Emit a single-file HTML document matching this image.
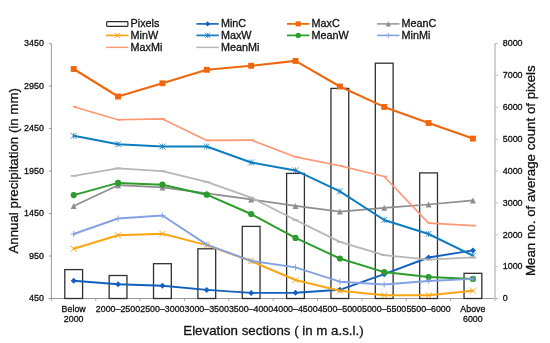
<!DOCTYPE html>
<html><head><meta charset="utf-8"><title>Chart</title>
<style>html,body{margin:0;padding:0;background:#fff}svg{display:block}</style></head>
<body>
<svg width="550" height="343" viewBox="0 0 550 343" font-family="'Liberation Sans', sans-serif" fill="#111">
<style>text{stroke:#111;stroke-width:0.3px}</style>
<rect width="550" height="343" fill="#fff" stroke="none"/>
<path d="M48.90 298.5H497.80" stroke="#8f8f8f" stroke-width="0.9" fill="none"/>
<path d="M51.4 43.6V300.8" stroke="#8f8f8f" stroke-width="0.9" fill="none"/>
<path d="M495.0 43.6V300.8" stroke="#c2c2c2" stroke-width="1.5" fill="none"/>
<path d="M48.90 43.60H51.4 M48.90 86.08H51.4 M48.90 128.57H51.4 M48.90 171.05H51.4 M48.90 213.53H51.4 M48.90 256.02H51.4 M48.90 298.50H51.4 M95.76 298.5V300.80 M140.12 298.5V300.80 M184.48 298.5V300.80 M228.84 298.5V300.80 M273.20 298.5V300.80 M317.56 298.5V300.80 M361.92 298.5V300.80 M406.28 298.5V300.80 M450.64 298.5V300.80" stroke="#8f8f8f" stroke-width="0.9" fill="none"/>
<path d="M495.0 43.60H497.80 M495.0 75.46H497.80 M495.0 107.33H497.80 M495.0 139.19H497.80 M495.0 171.05H497.80 M495.0 202.91H497.80 M495.0 234.78H497.80 M495.0 266.64H497.80 M495.0 298.50H497.80" stroke="#b5b5b5" stroke-width="0.9" fill="none"/>
<rect x="64.80" y="269.60" width="17.80" height="28.90" fill="#fff" stroke="#303030" stroke-width="1.3"/>
<rect x="109.16" y="275.50" width="17.80" height="23.00" fill="#fff" stroke="#303030" stroke-width="1.3"/>
<rect x="153.52" y="263.70" width="17.80" height="34.80" fill="#fff" stroke="#303030" stroke-width="1.3"/>
<rect x="197.88" y="248.80" width="17.80" height="49.70" fill="#fff" stroke="#303030" stroke-width="1.3"/>
<rect x="242.24" y="226.40" width="17.80" height="72.10" fill="#fff" stroke="#303030" stroke-width="1.3"/>
<rect x="286.60" y="173.40" width="17.80" height="125.10" fill="#fff" stroke="#303030" stroke-width="1.3"/>
<rect x="330.96" y="88.40" width="17.80" height="210.10" fill="#fff" stroke="#303030" stroke-width="1.3"/>
<rect x="375.32" y="63.20" width="17.80" height="235.30" fill="#fff" stroke="#303030" stroke-width="1.3"/>
<rect x="419.68" y="172.90" width="17.80" height="125.60" fill="#fff" stroke="#303030" stroke-width="1.3"/>
<rect x="464.04" y="273.30" width="17.80" height="25.20" fill="#fff" stroke="#303030" stroke-width="1.3"/>
<polyline points="73.70,280.80 118.06,284.30 162.42,285.80 206.78,289.90 251.14,292.90 295.50,292.70 339.86,289.80 384.22,274.20 428.58,257.50 472.94,250.40" fill="none" stroke="#1260BE" stroke-width="1.9" stroke-linejoin="round" stroke-linecap="round"/>
<path d="M70.70 280.80L73.70 277.80L76.70 280.80L73.70 283.80Z" fill="#1260BE"/>
<path d="M115.06 284.30L118.06 281.30L121.06 284.30L118.06 287.30Z" fill="#1260BE"/>
<path d="M159.42 285.80L162.42 282.80L165.42 285.80L162.42 288.80Z" fill="#1260BE"/>
<path d="M203.78 289.90L206.78 286.90L209.78 289.90L206.78 292.90Z" fill="#1260BE"/>
<path d="M248.14 292.90L251.14 289.90L254.14 292.90L251.14 295.90Z" fill="#1260BE"/>
<path d="M292.50 292.70L295.50 289.70L298.50 292.70L295.50 295.70Z" fill="#1260BE"/>
<path d="M336.86 289.80L339.86 286.80L342.86 289.80L339.86 292.80Z" fill="#1260BE"/>
<path d="M381.22 274.20L384.22 271.20L387.22 274.20L384.22 277.20Z" fill="#1260BE"/>
<path d="M425.58 257.50L428.58 254.50L431.58 257.50L428.58 260.50Z" fill="#1260BE"/>
<path d="M469.94 250.40L472.94 247.40L475.94 250.40L472.94 253.40Z" fill="#1260BE"/>
<polyline points="73.70,69.00 118.06,96.50 162.42,83.30 206.78,69.80 251.14,65.80 295.50,60.90 339.86,86.50 384.22,106.90 428.58,123.00 472.94,138.60" fill="none" stroke="#EF670D" stroke-width="2.1" stroke-linejoin="round" stroke-linecap="round"/>
<rect x="70.75" y="66.05" width="5.90" height="5.90" fill="#EF670D"/>
<rect x="115.11" y="93.55" width="5.90" height="5.90" fill="#EF670D"/>
<rect x="159.47" y="80.35" width="5.90" height="5.90" fill="#EF670D"/>
<rect x="203.83" y="66.85" width="5.90" height="5.90" fill="#EF670D"/>
<rect x="248.19" y="62.85" width="5.90" height="5.90" fill="#EF670D"/>
<rect x="292.55" y="57.95" width="5.90" height="5.90" fill="#EF670D"/>
<rect x="336.91" y="83.55" width="5.90" height="5.90" fill="#EF670D"/>
<rect x="381.27" y="103.95" width="5.90" height="5.90" fill="#EF670D"/>
<rect x="425.63" y="120.05" width="5.90" height="5.90" fill="#EF670D"/>
<rect x="469.99" y="135.65" width="5.90" height="5.90" fill="#EF670D"/>
<polyline points="73.70,206.00 118.06,185.20 162.42,187.40 206.78,193.40 251.14,199.40 295.50,205.90 339.86,211.60 384.22,207.80 428.58,204.50 472.94,200.40" fill="none" stroke="#8E8E8E" stroke-width="1.7" stroke-linejoin="round" stroke-linecap="round"/>
<path d="M73.70 203.00L76.70 209.00L70.70 209.00Z" fill="#8E8E8E"/>
<path d="M118.06 182.20L121.06 188.20L115.06 188.20Z" fill="#8E8E8E"/>
<path d="M162.42 184.40L165.42 190.40L159.42 190.40Z" fill="#8E8E8E"/>
<path d="M206.78 190.40L209.78 196.40L203.78 196.40Z" fill="#8E8E8E"/>
<path d="M251.14 196.40L254.14 202.40L248.14 202.40Z" fill="#8E8E8E"/>
<path d="M295.50 202.90L298.50 208.90L292.50 208.90Z" fill="#8E8E8E"/>
<path d="M339.86 208.60L342.86 214.60L336.86 214.60Z" fill="#8E8E8E"/>
<path d="M384.22 204.80L387.22 210.80L381.22 210.80Z" fill="#8E8E8E"/>
<path d="M428.58 201.50L431.58 207.50L425.58 207.50Z" fill="#8E8E8E"/>
<path d="M472.94 197.40L475.94 203.40L469.94 203.40Z" fill="#8E8E8E"/>
<polyline points="73.70,248.80 118.06,235.30 162.42,233.80 206.78,245.10 251.14,261.10 295.50,280.00 339.86,290.70 384.22,295.20 428.58,295.30 472.94,290.70" fill="none" stroke="#FAA512" stroke-width="2.0" stroke-linejoin="round" stroke-linecap="round"/>
<path d="M70.70 245.80L76.70 251.80M70.70 251.80L76.70 245.80" stroke="#FAA512" stroke-width="1" fill="none"/>
<path d="M115.06 232.30L121.06 238.30M115.06 238.30L121.06 232.30" stroke="#FAA512" stroke-width="1" fill="none"/>
<path d="M159.42 230.80L165.42 236.80M159.42 236.80L165.42 230.80" stroke="#FAA512" stroke-width="1" fill="none"/>
<path d="M203.78 242.10L209.78 248.10M203.78 248.10L209.78 242.10" stroke="#FAA512" stroke-width="1" fill="none"/>
<path d="M248.14 258.10L254.14 264.10M248.14 264.10L254.14 258.10" stroke="#FAA512" stroke-width="1" fill="none"/>
<path d="M292.50 277.00L298.50 283.00M292.50 283.00L298.50 277.00" stroke="#FAA512" stroke-width="1" fill="none"/>
<path d="M336.86 287.70L342.86 293.70M336.86 293.70L342.86 287.70" stroke="#FAA512" stroke-width="1" fill="none"/>
<path d="M381.22 292.20L387.22 298.20M381.22 298.20L387.22 292.20" stroke="#FAA512" stroke-width="1" fill="none"/>
<path d="M425.58 292.30L431.58 298.30M425.58 298.30L431.58 292.30" stroke="#FAA512" stroke-width="1" fill="none"/>
<path d="M469.94 287.70L475.94 293.70M469.94 293.70L475.94 287.70" stroke="#FAA512" stroke-width="1" fill="none"/>
<polyline points="73.70,135.80 118.06,144.20 162.42,146.50 206.78,146.50 251.14,162.50 295.50,170.40 339.86,191.30 384.22,220.00 428.58,234.00 472.94,255.70" fill="none" stroke="#0C7DC0" stroke-width="2.0" stroke-linejoin="round" stroke-linecap="round"/>
<path d="M70.70 132.80L76.70 138.80M70.70 138.80L76.70 132.80M73.70 132.80L73.70 138.80" stroke="#0C7DC0" stroke-width="0.9" fill="none" opacity="0.85"/>
<path d="M115.06 141.20L121.06 147.20M115.06 147.20L121.06 141.20M118.06 141.20L118.06 147.20" stroke="#0C7DC0" stroke-width="0.9" fill="none" opacity="0.85"/>
<path d="M159.42 143.50L165.42 149.50M159.42 149.50L165.42 143.50M162.42 143.50L162.42 149.50" stroke="#0C7DC0" stroke-width="0.9" fill="none" opacity="0.85"/>
<path d="M203.78 143.50L209.78 149.50M203.78 149.50L209.78 143.50M206.78 143.50L206.78 149.50" stroke="#0C7DC0" stroke-width="0.9" fill="none" opacity="0.85"/>
<path d="M248.14 159.50L254.14 165.50M248.14 165.50L254.14 159.50M251.14 159.50L251.14 165.50" stroke="#0C7DC0" stroke-width="0.9" fill="none" opacity="0.85"/>
<path d="M292.50 167.40L298.50 173.40M292.50 173.40L298.50 167.40M295.50 167.40L295.50 173.40" stroke="#0C7DC0" stroke-width="0.9" fill="none" opacity="0.85"/>
<path d="M336.86 188.30L342.86 194.30M336.86 194.30L342.86 188.30M339.86 188.30L339.86 194.30" stroke="#0C7DC0" stroke-width="0.9" fill="none" opacity="0.85"/>
<path d="M381.22 217.00L387.22 223.00M381.22 223.00L387.22 217.00M384.22 217.00L384.22 223.00" stroke="#0C7DC0" stroke-width="0.9" fill="none" opacity="0.85"/>
<path d="M425.58 231.00L431.58 237.00M425.58 237.00L431.58 231.00M428.58 231.00L428.58 237.00" stroke="#0C7DC0" stroke-width="0.9" fill="none" opacity="0.85"/>
<path d="M469.94 252.70L475.94 258.70M469.94 258.70L475.94 252.70M472.94 252.70L472.94 258.70" stroke="#0C7DC0" stroke-width="0.9" fill="none" opacity="0.85"/>
<polyline points="73.70,195.10 118.06,182.90 162.42,184.70 206.78,194.70 251.14,214.00 295.50,237.90 339.86,258.50 384.22,272.10 428.58,277.00 472.94,278.90" fill="none" stroke="#2C9C2C" stroke-width="2.0" stroke-linejoin="round" stroke-linecap="round"/>
<circle cx="73.70" cy="195.10" r="3.10" fill="#2C9C2C"/>
<circle cx="118.06" cy="182.90" r="3.10" fill="#2C9C2C"/>
<circle cx="162.42" cy="184.70" r="3.10" fill="#2C9C2C"/>
<circle cx="206.78" cy="194.70" r="3.10" fill="#2C9C2C"/>
<circle cx="251.14" cy="214.00" r="3.10" fill="#2C9C2C"/>
<circle cx="295.50" cy="237.90" r="3.10" fill="#2C9C2C"/>
<circle cx="339.86" cy="258.50" r="3.10" fill="#2C9C2C"/>
<circle cx="384.22" cy="272.10" r="3.10" fill="#2C9C2C"/>
<circle cx="428.58" cy="277.00" r="3.10" fill="#2C9C2C"/>
<circle cx="472.94" cy="278.90" r="3.10" fill="#2C9C2C"/>
<polyline points="73.70,234.00 118.06,218.50 162.42,215.50 206.78,244.60 251.14,260.90 295.50,267.40 339.86,281.70 384.22,284.50 428.58,281.00 472.94,278.90" fill="none" stroke="#84A2E3" stroke-width="1.9" stroke-linejoin="round" stroke-linecap="round"/>
<path d="M70.70 234.00L76.70 234.00M73.70 231.00L73.70 237.00" stroke="#84A2E3" stroke-width="0.9" fill="none"/>
<path d="M115.06 218.50L121.06 218.50M118.06 215.50L118.06 221.50" stroke="#84A2E3" stroke-width="0.9" fill="none"/>
<path d="M159.42 215.50L165.42 215.50M162.42 212.50L162.42 218.50" stroke="#84A2E3" stroke-width="0.9" fill="none"/>
<path d="M203.78 244.60L209.78 244.60M206.78 241.60L206.78 247.60" stroke="#84A2E3" stroke-width="0.9" fill="none"/>
<path d="M248.14 260.90L254.14 260.90M251.14 257.90L251.14 263.90" stroke="#84A2E3" stroke-width="0.9" fill="none"/>
<path d="M292.50 267.40L298.50 267.40M295.50 264.40L295.50 270.40" stroke="#84A2E3" stroke-width="0.9" fill="none"/>
<path d="M336.86 281.70L342.86 281.70M339.86 278.70L339.86 284.70" stroke="#84A2E3" stroke-width="0.9" fill="none"/>
<path d="M381.22 284.50L387.22 284.50M384.22 281.50L384.22 287.50" stroke="#84A2E3" stroke-width="0.9" fill="none"/>
<path d="M425.58 281.00L431.58 281.00M428.58 278.00L428.58 284.00" stroke="#84A2E3" stroke-width="0.9" fill="none"/>
<path d="M469.94 278.90L475.94 278.90M472.94 275.90L472.94 281.90" stroke="#84A2E3" stroke-width="0.9" fill="none"/>
<polyline points="73.70,106.70 118.06,119.70 162.42,118.90 206.78,140.40 251.14,140.10 295.50,156.90 339.86,165.80 384.22,176.50 428.58,223.10 472.94,225.60" fill="none" stroke="#FF9772" stroke-width="1.65" stroke-linejoin="round" stroke-linecap="round"/>
<path d="M73.70 106.70H76.70" stroke="#FF9772" stroke-width="1.65" fill="none"/>
<path d="M118.06 119.70H121.06" stroke="#FF9772" stroke-width="1.65" fill="none"/>
<path d="M162.42 118.90H165.42" stroke="#FF9772" stroke-width="1.65" fill="none"/>
<path d="M206.78 140.40H209.78" stroke="#FF9772" stroke-width="1.65" fill="none"/>
<path d="M251.14 140.10H254.14" stroke="#FF9772" stroke-width="1.65" fill="none"/>
<path d="M295.50 156.90H298.50" stroke="#FF9772" stroke-width="1.65" fill="none"/>
<path d="M339.86 165.80H342.86" stroke="#FF9772" stroke-width="1.65" fill="none"/>
<path d="M384.22 176.50H387.22" stroke="#FF9772" stroke-width="1.65" fill="none"/>
<path d="M428.58 223.10H431.58" stroke="#FF9772" stroke-width="1.65" fill="none"/>
<path d="M472.94 225.60H475.94" stroke="#FF9772" stroke-width="1.65" fill="none"/>
<polyline points="73.70,175.90 118.06,168.30 162.42,171.10 206.78,181.90 251.14,197.60 295.50,220.00 339.86,241.90 384.22,255.20 428.58,259.70 472.94,257.40" fill="none" stroke="#B6B6B6" stroke-width="1.75" stroke-linejoin="round" stroke-linecap="round"/>
<path d="M70.70 175.90H76.70" stroke="#B6B6B6" stroke-width="1.65" fill="none"/>
<path d="M115.06 168.30H121.06" stroke="#B6B6B6" stroke-width="1.65" fill="none"/>
<path d="M159.42 171.10H165.42" stroke="#B6B6B6" stroke-width="1.65" fill="none"/>
<path d="M203.78 181.90H209.78" stroke="#B6B6B6" stroke-width="1.65" fill="none"/>
<path d="M248.14 197.60H254.14" stroke="#B6B6B6" stroke-width="1.65" fill="none"/>
<path d="M292.50 220.00H298.50" stroke="#B6B6B6" stroke-width="1.65" fill="none"/>
<path d="M336.86 241.90H342.86" stroke="#B6B6B6" stroke-width="1.65" fill="none"/>
<path d="M381.22 255.20H387.22" stroke="#B6B6B6" stroke-width="1.65" fill="none"/>
<path d="M425.58 259.70H431.58" stroke="#B6B6B6" stroke-width="1.65" fill="none"/>
<path d="M469.94 257.40H475.94" stroke="#B6B6B6" stroke-width="1.65" fill="none"/>
<text x="43.9" y="46.40" font-size="8.95" text-anchor="end">3450</text>
<text x="43.9" y="88.88" font-size="8.95" text-anchor="end">2950</text>
<text x="43.9" y="131.37" font-size="8.95" text-anchor="end">2450</text>
<text x="43.9" y="173.85" font-size="8.95" text-anchor="end">1950</text>
<text x="43.9" y="216.33" font-size="8.95" text-anchor="end">1450</text>
<text x="43.9" y="258.82" font-size="8.95" text-anchor="end">950</text>
<text x="43.9" y="301.30" font-size="8.95" text-anchor="end">450</text>
<text x="502.7" y="46.45" font-size="8.95">8000</text>
<text x="502.7" y="78.31" font-size="8.95">7000</text>
<text x="502.7" y="110.17" font-size="8.95">6000</text>
<text x="502.7" y="142.04" font-size="8.95">5000</text>
<text x="502.7" y="173.90" font-size="8.95">4000</text>
<text x="502.7" y="205.76" font-size="8.95">3000</text>
<text x="502.7" y="237.62" font-size="8.95">2000</text>
<text x="502.7" y="269.49" font-size="8.95">1000</text>
<text x="502.7" y="301.35" font-size="8.95">0</text>
<text x="73.65" y="311.90" font-size="8.85" text-anchor="middle">Below</text>
<text x="73.65" y="321.80" font-size="8.85" text-anchor="middle">2000</text>
<text x="118.01" y="311.90" font-size="8.85" text-anchor="middle">2000–2500</text>
<text x="162.37" y="311.90" font-size="8.85" text-anchor="middle">2500–3000</text>
<text x="206.73" y="311.90" font-size="8.85" text-anchor="middle">3000–3500</text>
<text x="251.09" y="311.90" font-size="8.85" text-anchor="middle">3500–4000</text>
<text x="295.45" y="311.90" font-size="8.85" text-anchor="middle">4000–4500</text>
<text x="339.81" y="311.90" font-size="8.85" text-anchor="middle">4500–5000</text>
<text x="384.17" y="311.90" font-size="8.85" text-anchor="middle">5000–5500</text>
<text x="428.53" y="311.90" font-size="8.85" text-anchor="middle">5500–6000</text>
<text x="472.89" y="311.90" font-size="8.85" text-anchor="middle">Above</text>
<text x="472.89" y="321.80" font-size="8.85" text-anchor="middle">6000</text>
<text x="183.3" y="334.9" font-size="13.3">Elevation sections ( in m a.s.l.)</text>
<text transform="translate(18.2 253.6) rotate(-90)" font-size="13.3">Annual precipitation (in mm)</text>
<text transform="translate(534.9 276.0) rotate(-90)" font-size="13.3">Mean no. of average count of pixels</text>
<rect x="106.70" y="21.60" width="21.2" height="4.7" fill="#fff" stroke="#2b2b2b" stroke-width="1.2" rx="0.7"/>
<text x="130.60" y="27.20" font-size="10.8">Pixels</text>
<path d="M196.40 23.90H218.80" stroke="#1260BE" stroke-width="1.61"/>
<path d="M205.05 23.90L207.60 21.35L210.15 23.90L207.60 26.45Z" fill="#1260BE"/>
<text x="220.90" y="27.20" font-size="10.8">MinC</text>
<path d="M287.00 23.90H309.40" stroke="#EF670D" stroke-width="1.78"/>
<rect x="295.69" y="21.39" width="5.02" height="5.02" fill="#EF670D"/>
<text x="311.50" y="27.20" font-size="10.8">MaxC</text>
<path d="M377.10 23.90H399.50" stroke="#8E8E8E" stroke-width="1.44"/>
<path d="M388.30 21.35L390.85 26.45L385.75 26.45Z" fill="#8E8E8E"/>
<text x="401.60" y="27.20" font-size="10.8">MeanC</text>
<path d="M106.10 35.40H128.50" stroke="#FAA512" stroke-width="1.70"/>
<path d="M114.75 32.85L119.85 37.95M114.75 37.95L119.85 32.85" stroke="#FAA512" stroke-width="1" fill="none"/>
<text x="130.60" y="39.20" font-size="10.8">MinW</text>
<path d="M196.40 35.40H218.80" stroke="#0C7DC0" stroke-width="1.70"/>
<path d="M205.05 32.85L210.15 37.95M205.05 37.95L210.15 32.85M207.60 32.85L207.60 37.95" stroke="#0C7DC0" stroke-width="0.9" fill="none" opacity="0.85"/>
<text x="220.90" y="39.20" font-size="10.8">MaxW</text>
<path d="M287.00 35.40H309.40" stroke="#2C9C2C" stroke-width="1.70"/>
<circle cx="298.20" cy="35.40" r="2.63" fill="#2C9C2C"/>
<text x="311.50" y="39.20" font-size="10.8">MeanW</text>
<path d="M377.10 35.40H399.50" stroke="#84A2E3" stroke-width="1.61"/>
<path d="M385.75 35.40L390.85 35.40M388.30 32.85L388.30 37.95" stroke="#84A2E3" stroke-width="0.9" fill="none"/>
<text x="401.60" y="39.20" font-size="10.8">MinMi</text>
<path d="M106.10 47.40H128.50" stroke="#FF9772" stroke-width="1.40"/>
<text x="130.60" y="51.20" font-size="10.8">MaxMi</text>
<path d="M196.40 47.40H218.80" stroke="#B6B6B6" stroke-width="1.49"/>
<text x="220.90" y="51.20" font-size="10.8">MeanMi</text>
</svg>
</body></html>
